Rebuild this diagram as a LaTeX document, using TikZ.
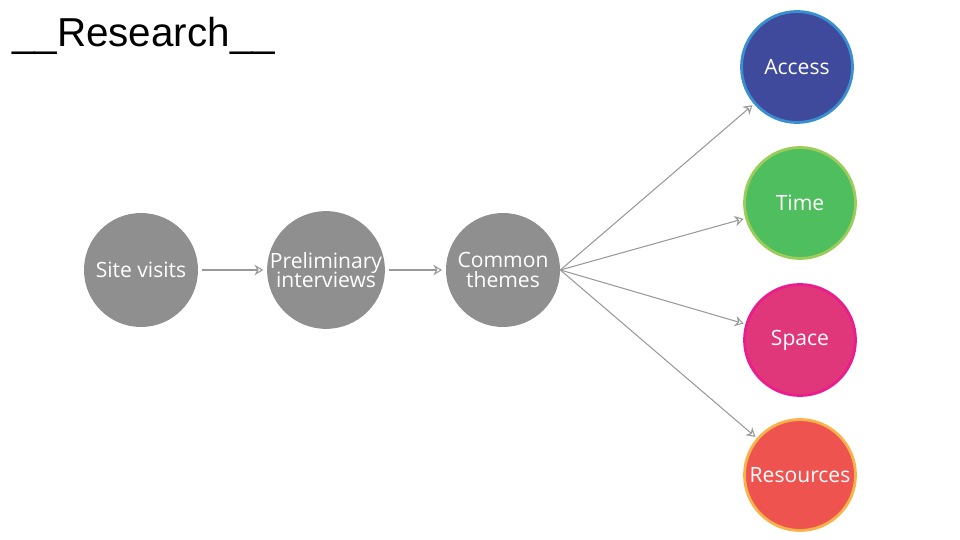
\documentclass[tikz,border=0pt]{standalone}
\usepackage{fontspec}
\setmainfont{Open Sans}
\newfontfamily\titlefont{Liberation Sans}
\usetikzlibrary{arrows.meta}
\definecolor{stepgray}{HTML}{8F8F8F}
\definecolor{accessfill}{HTML}{3F4A9C}
\definecolor{accessline}{HTML}{3A8FD0}
\definecolor{timefill}{HTML}{4FBE5E}
\definecolor{timeline}{HTML}{9CCC5A}
\definecolor{spacefill}{HTML}{E0367A}
\definecolor{spaceline}{HTML}{E91E8C}
\definecolor{resfill}{HTML}{EF5350}
\definecolor{resline}{HTML}{F9B24A}
\tikzset{
  stage/.style={circle,fill=stepgray,minimum size=114*0.02cm,inner sep=0pt,align=center,
    text=white,font=\fontsize{12}{13}\selectfont},
  theme/.style 2 args={circle,fill=#1,draw=#2,line width=1.6pt,minimum size=111*0.02cm,
    inner sep=0pt,text=white,font=\fontsize{12}{13}\selectfont},
  link/.style={->,>={Stealth[open,length=5pt,width=6pt]},draw=gray!80,line width=0.6pt}
}
\begin{document}
\begin{tikzpicture}[x=0.02cm,y=-0.02cm]
\useasboundingbox (0,0) rectangle (960,540);
\node[anchor=west,font=\titlefont\fontsize{23}{25}\selectfont] (title) at (6,36) {\_\_Research\_\_};
%
\node[stage] (site) at (141,270) {Site visits};
\node[stage] (prelim) at (326,270) {Preliminary\\[-2pt]interviews};
\node[stage] (common) at (503,270) {Common\\[-2pt]themes};
%
\node[theme={accessfill}{accessline}] (access) at (797,67) {Access};
\node[theme={timefill}{timeline}] (time) at (800,203) {Time};
\node[theme={spacefill}{spaceline}] (space) at (800,340) {Space};
\node[theme={resfill}{resline}] (res) at (800,475) {Resources};
%
\draw[link,shorten <=2pt,shorten >=2pt] (site) -- (prelim);
\draw[link,shorten <=2pt,shorten >=2pt] (prelim) -- (common);
\foreach \t in {access,time,space,res}
  \draw[link,shorten >=1pt] (common.east) -- (\t);
\end{tikzpicture}
\end{document}
